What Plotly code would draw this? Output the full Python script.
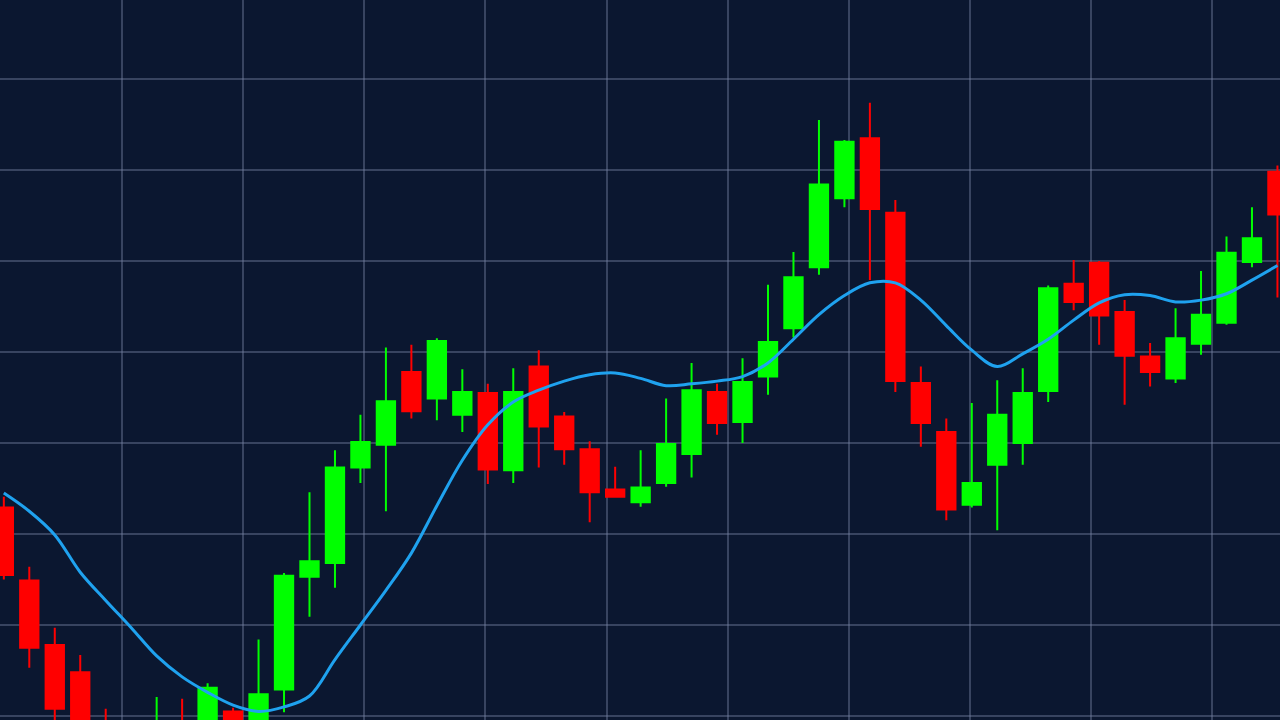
import plotly.graph_objects as go

bg_color = "#0b1730"
grid_color = "rgba(120,132,165,0.42)"
up_color = "#00ff00"
down_color = "#ff0000"
ma_color = "#1fa2ef"

# one candle per session (index), prices
sessions = list(range(51))
open_ = [122.9, 114.9, 107.8, 104.8, 99.0, 97.4, 95.2, 99.3, 97.9, 100.5,
         98.9, 102.9, 115.3, 116.8, 127.3, 129.8, 137.8, 134.9, 133.1, 135.5,
         127.0, 138.4, 132.9, 129.3, 124.9, 123.5, 125.6, 128.8, 135.6, 132.3,
         137.3, 142.6, 149.3, 156.9, 163.5, 155.3, 136.6, 131.2, 123.2, 127.6,
         130.0, 135.7, 147.5, 149.8, 144.4, 139.5, 137.1, 140.9, 143.2, 149.9,
         159.8]
high = [124.1, 116.4, 109.7, 106.7, 100.8, 98.7, 102.1, 101.9, 103.6, 100.9,
        108.4, 115.7, 124.6, 129.2, 133.1, 140.5, 140.8, 141.5, 138.1, 136.5,
        138.2, 140.2, 133.4, 130.2, 127.4, 129.2, 134.9, 138.8, 136.5, 139.3,
        147.4, 151.0, 165.5, 163.3, 167.4, 156.7, 138.4, 132.7, 134.4, 136.9,
        138.2, 147.3, 150.1, 150.0, 145.7, 141.0, 144.8, 148.9, 152.7, 155.9,
        160.5]
low = [115.0, 105.3, 98.5, 95.2, 94.1, 93.2, 94.1, 95.7, 96.8, 97.1,
       97.9, 100.4, 110.9, 114.1, 125.6, 122.5, 132.7, 132.5, 131.2, 125.5,
       125.6, 127.3, 127.6, 121.3, 124.0, 123.0, 125.2, 126.2, 130.9, 130.0,
       135.3, 141.6, 148.5, 155.9, 147.9, 135.6, 129.6, 121.5, 122.9, 120.4,
       127.6, 134.5, 144.6, 140.8, 134.2, 136.2, 136.6, 139.7, 143.0, 149.3,
       146.0]
close = [115.5, 107.5, 100.8, 97.4, 95.2, 94.6, 99.0, 96.8, 103.1, 98.2,
         102.4, 115.4, 117.0, 127.3, 130.1, 134.6, 133.5, 141.2, 135.6, 127.1,
         135.6, 131.8, 129.3, 124.6, 124.1, 125.1, 129.9, 135.8, 132.2, 136.7,
         141.1, 148.2, 158.4, 163.1, 155.7, 136.8, 132.2, 122.7, 125.6, 133.1,
         135.5, 147.0, 145.5, 144.0, 139.6, 137.8, 141.5, 144.1, 150.9, 152.5,
         155.1]
moving_avg = [124.5, 122.5, 119.9, 115.8, 112.7, 109.7, 106.6, 104.3, 102.6, 101.2,
              100.5, 101.0, 102.2, 106.2, 110.0, 113.8, 117.9, 123.1, 128.1, 132.0,
              134.5, 135.8, 136.8, 137.5, 137.7, 137.1, 136.3, 136.5, 136.8, 137.3,
              138.8, 141.4, 144.1, 146.2, 147.6, 147.6, 145.7, 142.9, 140.2, 138.4,
              139.8, 141.4, 143.5, 145.4, 146.3, 146.2, 145.5, 145.7, 146.4, 147.9,
              149.5]

fig = go.Figure()
fig.add_trace(go.Candlestick(
    x=sessions, open=open_, high=high, low=low, close=close,
    increasing=dict(line=dict(color=up_color, width=2), fillcolor=up_color),
    decreasing=dict(line=dict(color=down_color, width=2), fillcolor=down_color),
    whiskerwidth=0,
    hoverinfo="skip",
))
fig.add_trace(go.Scatter(
    x=sessions, y=moving_avg, mode="lines",
    line=dict(color=ma_color, width=3, shape="spline", smoothing=1.0),
    hoverinfo="skip",
))

fig.update_layout(
    width=1280, height=720,
    margin=dict(l=0, r=0, t=0, b=0),
    paper_bgcolor=bg_color, plot_bgcolor=bg_color,
    showlegend=False,
    boxgap=0.28, boxgroupgap=0,
)
fig.update_xaxes(
    range=[-0.15, 50.1], rangeslider_visible=False,
    showticklabels=False, zeroline=False, showline=False,
    showgrid=True, gridcolor=grid_color, gridwidth=2,
    tick0=4.64, dtick=4.755,
)
fig.update_yaxes(
    range=[99.56, 178.68],
    showticklabels=False, zeroline=False, showline=False,
    showgrid=True, gridcolor=grid_color, gridwidth=2,
    tick0=100, dtick=10,
)

# drop the page's default body margin so the chart fills the window
fig.write_html(
    "out.html",
    config={"displayModeBar": False, "staticPlot": True},
    post_script="document.body.style.margin='0';document.body.style.overflow='hidden';",
)
